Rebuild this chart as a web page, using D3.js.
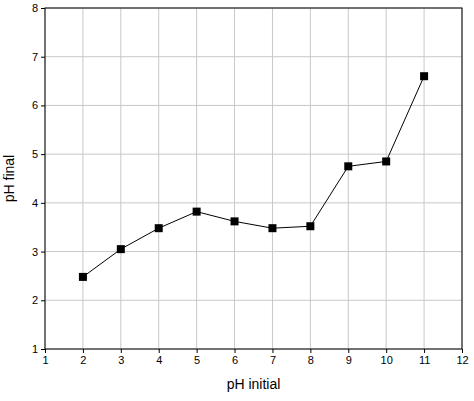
<!DOCTYPE html><html><head><script src="https://cdn.jsdelivr.net/npm/d3@7"></script>
<style>body{margin:0;background:#fff}</style></head><body><svg id="c" width="474" height="401"></svg>
<script>
const phInitial=[2,3,4,5,6,7,8,9,10,11];
const phFinal=[2.48,3.05,3.48,3.82,3.62,3.48,3.52,4.75,4.85,6.6];
const xTicks=[1,2,3,4,5,6,7,8,9,10,11,12];
const yTicks=[1,2,3,4,5,6,7,8];
const svg=d3.select("#c");
const m={l:45,r:12,t:8,b:52};
const W=474,H=401;
const x=d3.scaleLinear().domain([1,12]).range([m.l,W-m.r]);
const y=d3.scaleLinear().domain([1,8]).range([H-m.b,m.t]);
const g=svg.append("g");
g.selectAll(".vx").data(xTicks).enter().append("line").attr("x1",d=>x(d)).attr("x2",d=>x(d)).attr("y1",y(1)).attr("y2",y(8)).attr("stroke","#c8c8c8");
g.selectAll(".hy").data(yTicks).enter().append("line").attr("y1",d=>y(d)).attr("y2",d=>y(d)).attr("x1",x(1)).attr("x2",x(12)).attr("stroke","#c8c8c8");
svg.append("rect").attr("x",x(1)).attr("y",y(8)).attr("width",x(12)-x(1)).attr("height",y(1)-y(8)).attr("fill","none").attr("stroke","#000");
const xa=svg.append("g").attr("transform",`translate(0,${y(1)})`).call(d3.axisBottom(x).tickValues(xTicks).tickSize(4).tickFormat(d3.format("d")));
const ya=svg.append("g").attr("transform",`translate(${x(1)},0)`).call(d3.axisLeft(y).tickValues(yTicks).tickSize(4).tickFormat(d3.format("d")));
[xa,ya].forEach(a=>{a.select(".domain").remove();a.selectAll("text").attr("font-family","Arial, Liberation Sans").attr("font-size",11).attr("fill","#000");});
svg.append("text").attr("x",(x(1)+x(12))/2).attr("y",389).attr("text-anchor","middle").attr("font-family","Arial, Liberation Sans").attr("font-size",14).text("pH initial");
svg.append("text").attr("transform",`translate(14,${(y(1)+y(8))/2}) rotate(-90)`).attr("text-anchor","middle").attr("font-family","Arial, Liberation Sans").attr("font-size",14).text("pH final");
const data=phInitial.map((d,i)=>[d,phFinal[i]]);
svg.append("path").datum(data).attr("d",d3.line().x(d=>x(d[0])).y(d=>y(d[1]))).attr("fill","none").attr("stroke","#000").attr("stroke-width",1);
svg.selectAll(".pt").data(data).enter().append("rect").attr("x",d=>x(d[0])-4).attr("y",d=>y(d[1])-4).attr("width",8).attr("height",8).attr("fill","#000");
</script></body></html>
